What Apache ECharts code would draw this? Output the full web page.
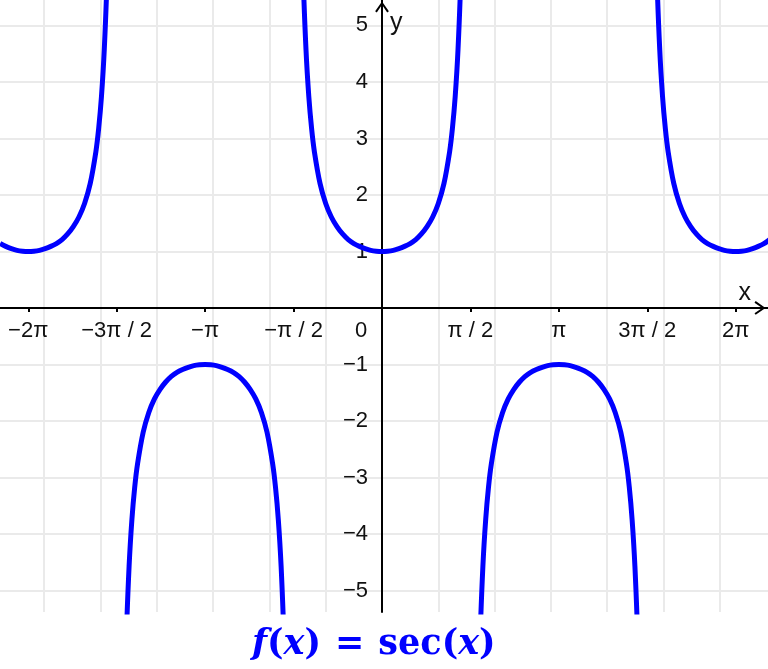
<!DOCTYPE html>
<html>
<head>
<meta charset="utf-8">
<script src="https://cdn.jsdelivr.net/npm/echarts@6/dist/echarts.min.js"></script>
<style>
  html, body { margin: 0; padding: 0; background: #ffffff; }
  #chart { width: 768px; height: 669px; }
</style>
</head>
<body>
<div id="chart"></div>
<script>
// ---- data (points along each branch of y = sec x) ----
const branchA = [[-6.783,1.14],[-6.683,1.09],[-6.583,1.05],[-6.483,1.02],[-6.383,1.005],[-6.283,1.0],[-6.183,1.005],[-6.083,1.02],[-5.983,1.05],[-5.883,1.09],[-5.783,1.14],[-5.683,1.21],[-5.583,1.31],[-5.483,1.44],[-5.383,1.61],[-5.283,1.85],[-5.183,2.20],[-5.083,2.76],[-5.033,3.17],[-4.983,3.74],[-4.933,4.57],[-4.883,5.88],[-4.833,8.30],[-4.783,14.14]];
const branchB = [[-1.5,14.14],[-1.45,8.30],[-1.4,5.88],[-1.35,4.57],[-1.3,3.74],[-1.25,3.17],[-1.2,2.76],[-1.1,2.20],[-1.0,1.85],[-0.9,1.61],[-0.8,1.44],[-0.7,1.31],[-0.6,1.21],[-0.5,1.14],[-0.4,1.09],[-0.3,1.05],[-0.2,1.02],[-0.1,1.005],[0,1.0],[0.1,1.005],[0.2,1.02],[0.3,1.05],[0.4,1.09],[0.5,1.14],[0.6,1.21],[0.7,1.31],[0.8,1.44],[0.9,1.61],[1.0,1.85],[1.1,2.20],[1.2,2.76],[1.25,3.17],[1.3,3.74],[1.35,4.57],[1.4,5.88],[1.45,8.30],[1.5,14.14]];
const branchC = [[4.783,14.14],[4.833,8.30],[4.883,5.88],[4.933,4.57],[4.983,3.74],[5.033,3.17],[5.083,2.76],[5.183,2.20],[5.283,1.85],[5.383,1.61],[5.483,1.44],[5.583,1.31],[5.683,1.21],[5.783,1.14],[5.883,1.09],[5.983,1.05],[6.083,1.02],[6.183,1.005],[6.283,1.0],[6.383,1.005],[6.483,1.02],[6.583,1.05],[6.683,1.09],[6.783,1.14],[6.883,1.21],[6.983,1.31]];
const branchD = [[-4.642,-14.14],[-4.592,-8.30],[-4.542,-5.88],[-4.492,-4.57],[-4.442,-3.74],[-4.392,-3.17],[-4.342,-2.76],[-4.242,-2.20],[-4.142,-1.85],[-4.042,-1.61],[-3.942,-1.44],[-3.842,-1.31],[-3.742,-1.21],[-3.642,-1.14],[-3.542,-1.09],[-3.442,-1.05],[-3.342,-1.02],[-3.242,-1.005],[-3.142,-1.0],[-3.042,-1.005],[-2.942,-1.02],[-2.842,-1.05],[-2.742,-1.09],[-2.642,-1.14],[-2.542,-1.21],[-2.442,-1.31],[-2.342,-1.44],[-2.242,-1.61],[-2.142,-1.85],[-2.042,-2.20],[-1.942,-2.76],[-1.892,-3.17],[-1.842,-3.74],[-1.792,-4.57],[-1.742,-5.88],[-1.692,-8.30],[-1.642,-14.14]];
const branchE = [[1.642,-14.14],[1.692,-8.30],[1.742,-5.88],[1.792,-4.57],[1.842,-3.74],[1.892,-3.17],[1.942,-2.76],[2.042,-2.20],[2.142,-1.85],[2.242,-1.61],[2.342,-1.44],[2.442,-1.31],[2.542,-1.21],[2.642,-1.14],[2.742,-1.09],[2.842,-1.05],[2.942,-1.02],[3.042,-1.005],[3.142,-1.0],[3.242,-1.005],[3.342,-1.02],[3.442,-1.05],[3.542,-1.09],[3.642,-1.14],[3.742,-1.21],[3.842,-1.31],[3.942,-1.44],[4.042,-1.61],[4.142,-1.85],[4.242,-2.20],[4.342,-2.76],[4.392,-3.17],[4.442,-3.74],[4.492,-4.57],[4.542,-5.88],[4.592,-8.30],[4.642,-14.14]];

// ---- ticks ----
const xTickValues = [-2*Math.PI, -1.5*Math.PI, -Math.PI, -0.5*Math.PI, 0, 0.5*Math.PI, Math.PI, 1.5*Math.PI, 2*Math.PI];
const xTickLabels = ['−2π', '−3π / 2', '−π', '−π / 2', '0', 'π / 2', 'π', '3π / 2', '2π'];
const xGridValues = [-6, -5, -4, -3, -2, -1, 0, 1, 2, 3, 4, 5, 6];
const yGridValues = [-5, -4, -3, -2, -1, 0, 1, 2, 3, 4, 5];
const yLabelValues = [-5, -4, -3, -2, -1, 1, 2, 3, 4, 5];
const yTickLabels = ['−5', '−4', '−3', '−2', '−1', '1', '2', '3', '4', '5'];

const X_MIN = -6.785, X_MAX = 6.856, Y_MIN = -5.38, Y_MAX = 5.45;
const FONT = '"Liberation Sans", Arial, sans-serif';
const SERIF = '"DejaVu Serif", "Liberation Serif", serif';
const BLUE = '#0000ff';
const TEXT = '#111111';
const GRID_COLOR = '#eaeaea';
const chevron = 'path://M0,10 L7,0 L14,10 L12.3,11.2 L7,3.4 L1.7,11.2 Z';

const chart = echarts.init(document.getElementById('chart'), null, { renderer: 'canvas' });

function branch(data) {
  return {
    type: 'line', data: data, xAxisIndex: 0, yAxisIndex: 0,
    showSymbol: false, symbol: 'none', smooth: 0.3, clip: true,
    lineStyle: { color: BLUE, width: 5 }, z: 3, silent: true
  };
}

function nearestIndex(arr, v) {
  let best = 0;
  for (let k = 0; k < arr.length; k++) {
    if (Math.abs(arr[k] - v) < Math.abs(arr[best] - v)) best = k;
  }
  return best;
}

chart.setOption({
  animation: false,
  backgroundColor: '#ffffff',
  title: {
    left: 247, top: 622,
    text: '{i|f}{r|(}{i|x}{r|)}{e|=}{r|sec(}{i|x}{r|)}',
    textStyle: {
      rich: {
        i: { fontFamily: SERIF, fontStyle: 'italic', fontWeight: 'bold', fontSize: 35, color: BLUE },
        r: { fontFamily: SERIF, fontWeight: 'bold', fontSize: 35, color: BLUE },
        e: { fontFamily: SERIF, fontWeight: 'bold', fontSize: 35, color: BLUE, padding: [0, 14, 0, 14] }
      }
    }
  },
  grid: { left: 0, right: 0, top: 0, bottom: 57, containLabel: false, outerBoundsMode: 'none' },
  xAxis: [
    {
      type: 'value', min: X_MIN, max: X_MAX, z: 1, position: 'bottom', offset: 0,
      axisLine: { show: true, onZero: false, lineStyle: { color: '#000', width: 2 },
        symbol: ['none', chevron], symbolSize: [14, 11], symbolOffset: [0, -8] },
      axisTick: { show: true, customValues: xTickValues, length: 4, inside: false,
        lineStyle: { color: '#000', width: 2 } },
      axisLabel: {
        show: true, customValues: xTickValues, margin: 12,
        fontFamily: FONT, fontSize: 22, color: TEXT,
        hideOverlap: false, showMinLabel: true, showMaxLabel: true,
        formatter: function (v) {
          const k = nearestIndex(xTickValues, v);
          if (xTickValues[k] === 0) return '{o|0}';
          return xTickLabels[k];
        },
        rich: { o: { fontFamily: FONT, fontSize: 22, color: TEXT, padding: [0, 42, 0, 0] } }
      },
      splitLine: { show: false },
      name: 'x', nameLocation: 'end', nameGap: -17,
      nameTextStyle: { fontFamily: FONT, fontSize: 25, color: TEXT, align: 'right', verticalAlign: 'bottom', padding: [0, 0, 2, 0] }
    },
    {
      type: 'value', min: X_MIN, max: X_MAX, position: 'top', z: 0,
      axisLine: { show: false, onZero: false },
      axisTick: { show: false, customValues: xGridValues },
      axisLabel: { show: false, customValues: xGridValues },
      splitLine: { show: true, lineStyle: { color: GRID_COLOR, width: 2 } }
    }
  ],
  yAxis: [
    {
      type: 'value', min: Y_MIN, max: Y_MAX, z: 1, position: 'left', offset: 0,
      axisLine: { show: true, onZero: false, lineStyle: { color: '#000', width: 2 },
        symbol: ['none', chevron], symbolSize: [14, 11], symbolOffset: [0, -7] },
      axisTick: { show: false, customValues: yGridValues },
      axisLabel: {
        show: true, customValues: yLabelValues, margin: 14,
        fontFamily: FONT, fontSize: 22, color: TEXT, hideOverlap: false,
        formatter: function (v) { return yTickLabels[nearestIndex(yLabelValues, v)]; }
      },
      splitLine: { show: true, lineStyle: { color: GRID_COLOR, width: 2 } },
      name: 'y', nameLocation: 'end', nameGap: -11,
      nameTextStyle: { fontFamily: FONT, fontSize: 25, color: TEXT, align: 'left', verticalAlign: 'top', padding: [0, 0, 0, 8] }
    }
  ],
  series: [branch(branchA), branch(branchB), branch(branchC), branch(branchD), branch(branchE)]
});

// Move the axes to pass through the origin, using the library's own scales.
const origin = chart.convertToPixel({ xAxisIndex: 0, yAxisIndex: 0 }, [0, 0]);
const corner = chart.convertToPixel({ xAxisIndex: 0, yAxisIndex: 0 }, [X_MIN, Y_MIN]);
chart.setOption({
  xAxis: [{ offset: origin[1] - corner[1] }, {}],
  yAxis: [{ offset: corner[0] - origin[0] }]
});
</script>
</body>
</html>
